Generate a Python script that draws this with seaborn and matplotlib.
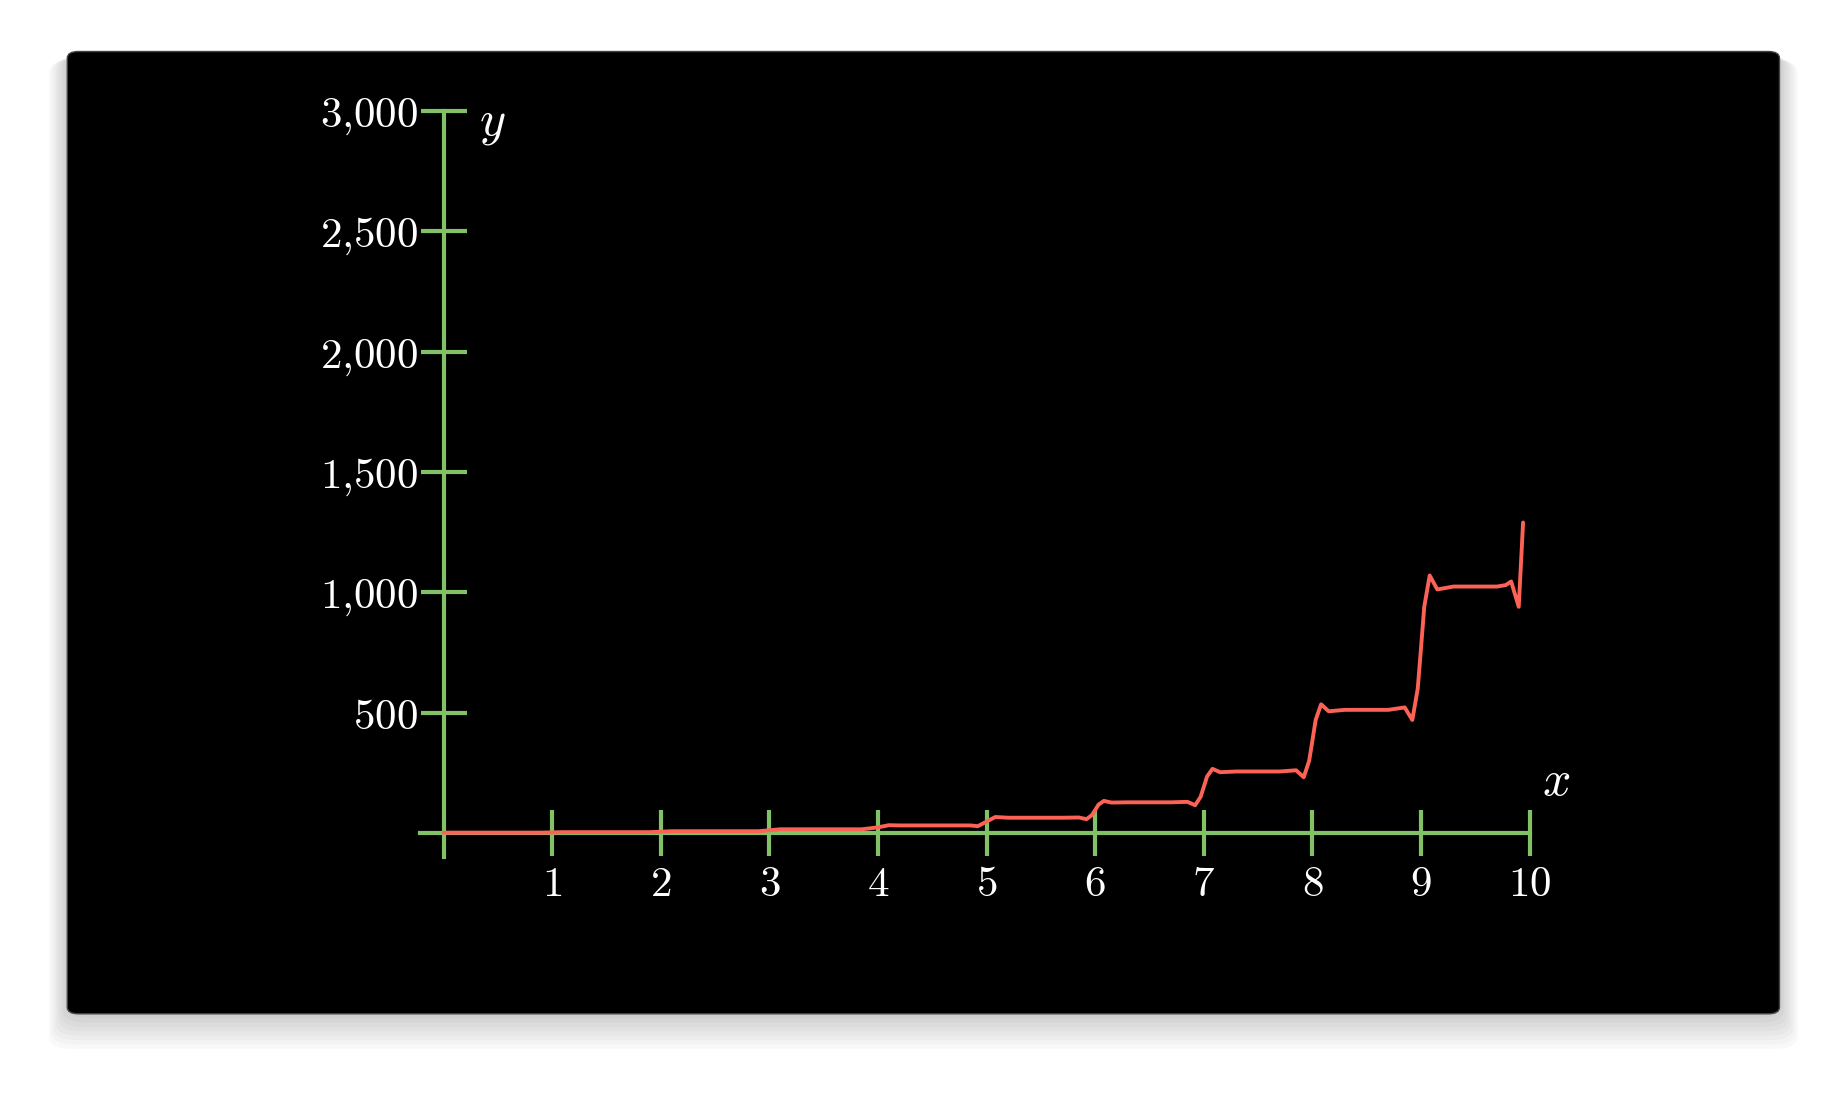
import matplotlib
matplotlib.use("Agg")
import matplotlib.pyplot as plt
import seaborn as sns
from matplotlib.patches import FancyBboxPatch

sns.set_theme(style="white")
plt.rcParams['mathtext.fontset'] = 'cm'
plt.rcParams['font.family'] = ['DejaVu Serif']

# curve points
curve_x = [0, 0.9, 1.1, 1.9, 2.1, 2.9, 3.1, 3.85, 4.0, 4.1, 4.2,
           4.85, 4.92, 5.0, 5.08, 5.2,
           5.7, 5.85, 5.92, 5.97, 6.0, 6.03, 6.08, 6.15, 6.3,
           6.7, 6.85, 6.92, 6.97, 7.0, 7.03, 7.08, 7.15, 7.3,
           7.7, 7.85, 7.92, 7.97, 8.0, 8.03, 8.08, 8.15, 8.3,
           8.7, 8.85, 8.92, 8.97, 9.0, 9.03, 9.08, 9.15, 9.3,
           9.7, 9.78, 9.83, 9.9, 9.94]
curve_y = [2, 2, 4, 4, 8, 8, 16, 16, 24, 33, 32,
           32, 29, 48, 67, 64,
           64, 65, 58, 75, 96, 118, 134, 127, 128,
           128, 130, 116, 150, 192, 235, 267, 253, 256,
           256, 261, 232, 300, 384, 470, 535, 506, 512,
           512, 522, 470, 600, 768, 940, 1070, 1012, 1024,
           1024, 1030, 1045, 940, 1290]
x_ticks = [1, 2, 3, 4, 5, 6, 7, 8, 9, 10]
y_ticks = [500, 1000, 1500, 2000, 2500, 3000]
y_tick_labels = ["$500$", "$1{,}000$", "$1{,}500$", "$2{,}000$", "$2{,}500$", "$3{,}000$"]

GREEN = "#83C167"
RED = "#FC6255"

fig = plt.figure(figsize=(18.44, 10.96), dpi=100)
fig.patch.set_facecolor("white")

# soft shadow + panel
for i in range(8):
    g = (8 - i) * 0.0025
    fig.patches.append(FancyBboxPatch((0.0365 - g * 0.5, 0.075 - g * 1.6), 0.9285 + g, 0.878 + g * 1.2,
                                      boxstyle="round,pad=0,rounding_size=0.012", transform=fig.transFigure,
                                      facecolor="black", alpha=0.025, edgecolor="none", zorder=0))
fig.patches.append(FancyBboxPatch((0.0365, 0.075), 0.9285, 0.878,
                                  boxstyle="round,pad=0,rounding_size=0.006", transform=fig.transFigure,
                                  facecolor="black", edgecolor="#444444", linewidth=1, zorder=1))

ax = fig.add_axes([0.2276, 0.2183, 0.8295 - 0.2276, 0.899 - 0.2183])
ax.set_facecolor("none")
ax.set_zorder(2)
sns.lineplot(x=curve_x, y=curve_y, ax=ax, color=RED, linewidth=2.8, sort=False)
ax.set_xlim(-0.22, 10)
ax.set_ylim(-98, 3000)
for s in ["top", "right"]:
    ax.spines[s].set_visible(False)
for s in ["left", "bottom"]:
    ax.spines[s].set_color(GREEN)
    ax.spines[s].set_linewidth(3)
    ax.spines[s].set_zorder(1)
ax.spines["left"].set_position(("data", 0))
ax.spines["bottom"].set_position(("data", 0))
ax.set_xticks(x_ticks)
ax.set_xticklabels([f"${v}$" for v in x_ticks])
ax.set_yticks(y_ticks)
ax.set_yticklabels(y_tick_labels)
ax.tick_params(axis="both", direction="inout", length=33, width=3, color=GREEN,
               labelcolor="white", labelsize=31, bottom=True, left=True)
ax.tick_params(axis="y", pad=2)
ax.tick_params(axis="x", pad=5)
ax.text(0.45, 2950, "$y$", color="white", fontsize=36, ha="center", va="center")
ax.text(10.24, 215, "$x$", color="white", fontsize=36, ha="center", va="center")
for l in ax.lines:
    l.set_zorder(3)
    l.set_clip_on(False)

fig.savefig("out.png", dpi=100, facecolor="white")
